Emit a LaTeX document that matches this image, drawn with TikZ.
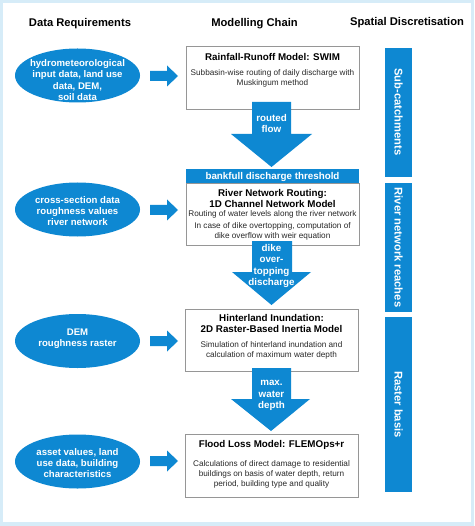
\documentclass[tikz,border=0pt]{standalone}
\usepackage{fontspec}
\setmainfont{Liberation Sans}
\usetikzlibrary{shapes.geometric}
\definecolor{blu}{RGB}{14,136,210}
\definecolor{framecol}{RGB}{214,236,248}
\definecolor{boxgray}{RGB}{150,150,150}
\definecolor{txtgray}{RGB}{40,40,40}
\tikzset{
  hdr/.style={font=\bfseries\fontsize{11.2}{13}\selectfont, text=black, inner sep=0},
  mbox/.style={draw=boxgray, line width=0.8pt, fill=white, anchor=north west, inner sep=0},
  ttl/.style={font=\bfseries\fontsize{9.8}{11}\selectfont, text=black, align=center, inner sep=0},
  bdy/.style={font=\fontsize{8.2}{9.8}\selectfont, text=txtgray, align=center, inner sep=0},
  ell/.style={ellipse, fill=blu, minimum width=125pt, minimum height=54pt, inner sep=0},
  etxt/.style={font=\bfseries\fontsize{9.6}{11.2}\selectfont, text=white, align=center, inner sep=0},
  atxt/.style={font=\bfseries\fontsize{9.8}{11.2}\selectfont, text=white, align=center, inner sep=0},
  bar/.style={fill=blu},
  bartxt/.style={font=\bfseries\fontsize{11.2}{13}\selectfont, text=white, rotate=-90, inner sep=0}
}
\begin{document}
\begin{tikzpicture}[x=1pt,y=-1pt]
\fill[framecol] (0,0) rectangle (474,526);
\fill[white] (3,3) rectangle (471,522);
\useasboundingbox (0,0) rectangle (474,526);

% headers
\node[hdr] (h1) at (80,24) {Data Requirements};
\node[hdr] (h2) at (254.5,24) {Modelling Chain};
\node[hdr] (h3) at (407,23) {Spatial Discretisation};

% spatial bars
\fill[bar] (385,48) rectangle (412,177);
\node[bartxt] (s1) at (398.5,112) {Sub-catchments};
\fill[bar] (385,183) rectangle (412,312);
\node[bartxt] (s2) at (398.5,247.5) {River network reaches};
\fill[bar] (385,317) rectangle (412,492);
\node[bartxt] (s3) at (398.5,404.5) {Raster basis};

% ellipses
\node[ell] (e1) at (77.5,75.5) {};
\node[etxt] at (77.5,80) {hydrometeorological\\input data, land use\\data, DEM,\\soil data};
\node[ell] (e2) at (77.5,209.5) {};
\node[etxt] at (77.5,211) {cross-section data\\roughness values\\river network};
\node[ell] (e3) at (77.5,341) {};
\node[etxt] at (77.5,338.5) {DEM\\roughness raster};
\node[ell] (e4) at (77.5,461.5) {};
\node[etxt] at (77.5,463) {asset values, land\\use data, building\\characteristics};

% small arrows
\foreach \yy in {76,210,341,461} {
  \fill[blu] (150,\yy-5) -- (167,\yy-5) -- (167,\yy-10.5) -- (178,\yy) -- (167,\yy+10.5) -- (167,\yy+5) -- (150,\yy+5) -- cycle;
}

% box 1
\node[mbox, minimum width=173pt, minimum height=63pt] (b1) at (186,46) {};
\node[ttl] at (272.5,57) {Rainfall-Runoff Model: SWIM};
\node[bdy] at (272.5,78.5) {Subbasin-wise routing of daily discharge with\\Muskingum method};

% arrow 1
\fill[blu] (252,102) -- (291,102) -- (291,134) -- (312,134) -- (271.5,167) -- (231,134) -- (252,134) -- cycle;
\node[atxt] at (271.5,123.5) {routed\\flow};

% box 2
\fill[blu] (186,169) rectangle (359,183);
\node[atxt] at (272.5,176.5) {bankfull discharge threshold};
\node[mbox, minimum width=173pt, minimum height=62pt] (b2) at (186,183) {};
\node[ttl] at (272.5,198) {River Network Routing:\\1D Channel Network Model};
\node[bdy] at (272.5,214) {Routing of water levels along the river network};
\node[bdy] at (272.5,231.5) {In case of dike overtopping, computation of\\dike overflow with weir equation};

% arrow 2
\fill[blu] (252,241) -- (292,241) -- (292,272) -- (311,272) -- (271.5,305) -- (232,272) -- (252,272) -- cycle;
\node[atxt] at (271.5,266) {dike\\over-\\topping\\discharge};

% box 3
\node[mbox, minimum width=173pt, minimum height=62pt] (b3) at (185,309) {};
\node[ttl] at (271.5,323.5) {Hinterland Inundation:\\2D Raster-Based Inertia Model};
\node[bdy] at (271.5,350.5) {Simulation of hinterland inundation and\\calculation of maximum water depth};

% arrow 3
\fill[blu] (252,368) -- (291,368) -- (291,399) -- (310,399) -- (271,431) -- (231,399) -- (252,399) -- cycle;
\node[atxt] at (271.5,395.5) {max.\\water\\depth};

% box 4
\node[mbox, minimum width=173pt, minimum height=63pt] (b4) at (185,434) {};
\node[ttl] at (271.5,445) {Flood Loss Model: FLEMOps+r};
\node[bdy] at (271.5,474.5) {Calculations of direct damage to residential\\buildings on basis of water depth, return\\period, building type and quality};
\end{tikzpicture}
\end{document}
